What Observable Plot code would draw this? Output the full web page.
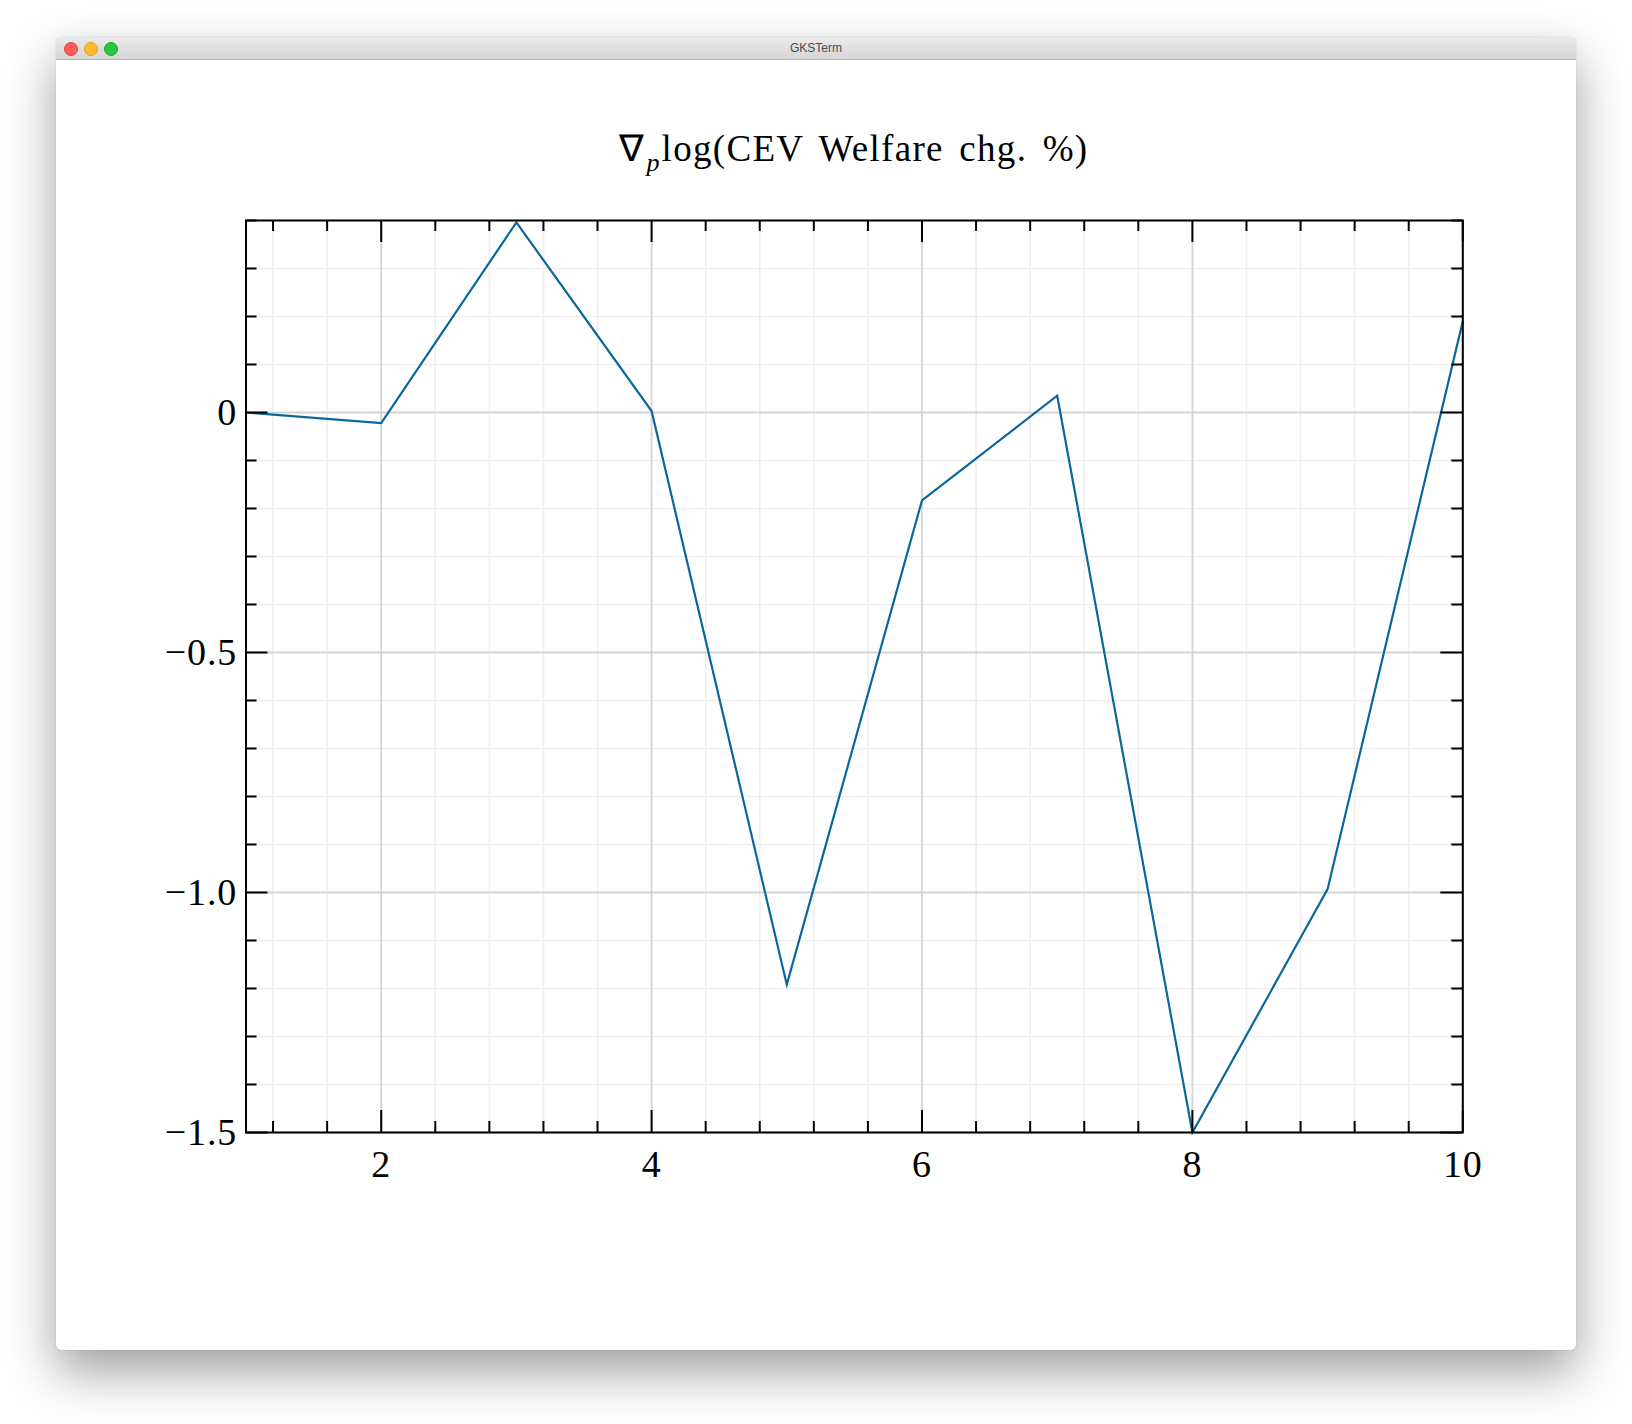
<!DOCTYPE html>
<html>
<head>
<meta charset="utf-8">
<script src="https://cdn.jsdelivr.net/npm/d3@7"></script>
<script src="https://cdn.jsdelivr.net/npm/@observablehq/plot@0.6"></script>
<style>
  html, body { margin: 0; padding: 0; background: #ffffff; width: 1632px; height: 1424px; overflow: hidden; }
  #win { position: absolute; left: 56px; top: 37px; width: 1520px; height: 1313px; background: #fff;
         border-radius: 5px; box-shadow: 0 22px 50px rgba(0,0,0,0.38), 0 0 1px rgba(0,0,0,0.4); overflow: hidden; }
  #bar { position: absolute; left: 0; top: 0; width: 1520px; height: 22px;
         background: linear-gradient(#ebebeb, #d5d5d5); border-bottom: 1px solid #b4b4b4; }
  #bar .dot { position: absolute; top: 5px; width: 12px; height: 12px; border-radius: 50%; }
  #bar .t { position: absolute; left: 0; width: 100%; top: 4px; text-align: center;
            font-family: "Liberation Sans", Inter, sans-serif; font-size: 12px; color: #4a4a4a; }
  #chart { position: absolute; left: 56px; top: 60px; }
  #title { position: absolute; left: 245.5px; width: 1216.8px; top: 131px; text-align: center;
           font-family: "Liberation Serif", serif; font-size: 37px; line-height: 36px; color: #000; white-space: nowrap;
           letter-spacing: 1.3px; word-spacing: 5px; }
  #title .sub { font-style: italic; font-size: 26px; position: relative; top: 10px; margin: 0 2px 0 1px; letter-spacing: 0; }
  #title .nab { font-weight: 300; }
</style>
</head>
<body>
<div id="win">
  <div id="bar">
    <div class="dot" style="left:8px;background:#fd5f57;border:0.5px solid #e0443e;"></div>
    <div class="dot" style="left:28px;background:#febc2e;border:0.5px solid #dea123;"></div>
    <div class="dot" style="left:48px;background:#28c840;border:0.5px solid #1aab29;"></div>
    <div class="t">GKSTerm</div>
  </div>
</div>
<div id="title"><span class="nab">∇</span><span class="sub">p</span>log(CEV Welfare chg. %)</div>
<div id="chart"></div>
<script>
// ---- data ----
const xs = [1, 2, 3, 4, 5, 6, 7, 8, 9, 10];
const ys = [0, -0.022, 0.396, 0.003, -1.192, -0.183, 0.035, -1.5, -0.993, 0.19];

// ---- ticks ----
const xMajorTicks = [2, 4, 6, 8, 10];
const xMinorTicks = [1.2, 1.6, 2.4, 2.8, 3.2, 3.6, 4.4, 4.8, 5.2, 5.6, 6.4, 6.8, 7.2, 7.6, 8.4, 8.8, 9.2, 9.6];
const yMajorTicks = [0, -0.5, -1.0, -1.5];
const yMajorLabels = ["0", "\u22120.5", "\u22121.0", "\u22121.5"];
const yMinorTicks = [0.4, 0.3, 0.2, 0.1, -0.1, -0.2, -0.3, -0.4, -0.6, -0.7, -0.8, -0.9, -1.1, -1.2, -1.3, -1.4];
const xDomain = [1, 10];
const yDomain = [-1.5, 0.4];

const data = xs.map((x, i) => ({x, y: ys[i]}));

const W = 1520, H = 1290;
const mL = 189.5, mR = 113.7, mT = 160, mB = 218;
const innerW = W - mL - mR, innerH = H - mT - mB;
const majLen = 22, minLen = 11;

const chart = Plot.plot({
  width: W, height: H,
  marginLeft: mL, marginRight: mR, marginTop: mT, marginBottom: mB,
  style: {fontFamily: "'Liberation Serif', serif", fontSize: "38px", color: "#000", background: "transparent", letterSpacing: "0.8px"},
  x: {domain: xDomain, axis: null, label: null},
  y: {domain: yDomain, axis: null, label: null},
  marks: [
    Plot.ruleX(xMinorTicks, {stroke: "#efefef", strokeWidth: 1.7}),
    Plot.ruleY(yMinorTicks, {stroke: "#efefef", strokeWidth: 1.7}),
    Plot.ruleX(xMajorTicks, {stroke: "#d4d4d4", strokeWidth: 1.8}),
    Plot.ruleY(yMajorTicks, {stroke: "#d4d4d4", strokeWidth: 1.8}),
    Plot.line(data, {x: "x", y: "y", stroke: "#0a679c", strokeWidth: 2.2, strokeLinejoin: "miter", strokeMiterlimit: 10}),
    // inward ticks, all four sides
    Plot.ruleX(xMajorTicks, {stroke: "#000", strokeWidth: 2, insetTop: innerH - majLen}),
    Plot.ruleX(xMajorTicks, {stroke: "#000", strokeWidth: 2, insetBottom: innerH - majLen}),
    Plot.ruleX(xMinorTicks, {stroke: "#000", strokeWidth: 2, insetTop: innerH - minLen}),
    Plot.ruleX(xMinorTicks, {stroke: "#000", strokeWidth: 2, insetBottom: innerH - minLen}),
    Plot.ruleY(yMajorTicks, {stroke: "#000", strokeWidth: 2, insetRight: innerW - majLen}),
    Plot.ruleY(yMajorTicks, {stroke: "#000", strokeWidth: 2, insetLeft: innerW - majLen}),
    Plot.ruleY(yMinorTicks, {stroke: "#000", strokeWidth: 2, insetRight: innerW - minLen}),
    Plot.ruleY(yMinorTicks, {stroke: "#000", strokeWidth: 2, insetLeft: innerW - minLen}),
    Plot.frame({stroke: "#000", strokeWidth: 2}),
    Plot.axisX({ticks: xMajorTicks, tickSize: 0, tickPadding: 18, label: null, tickFormat: d => String(d), fontSize: 38}),
    Plot.axisY({ticks: yMajorTicks, tickSize: 0, tickPadding: 9, label: null, tickFormat: d => yMajorLabels[yMajorTicks.indexOf(d)], fontSize: 38})
  ]
});
document.getElementById("chart").appendChild(chart);
</script>
</body>
</html>
